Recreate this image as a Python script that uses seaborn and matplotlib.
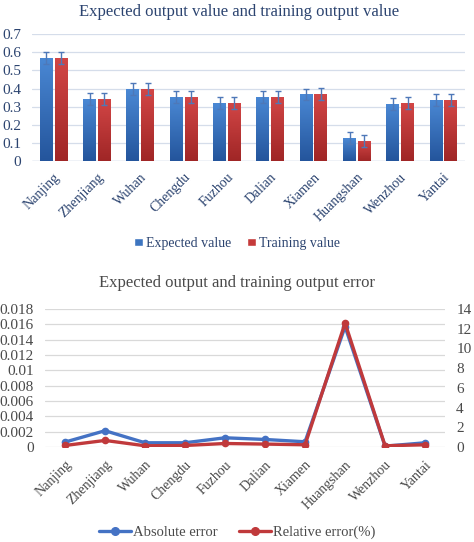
import numpy as np
import pandas as pd
import matplotlib
matplotlib.use("Agg")
import matplotlib.pyplot as plt
from matplotlib.colors import LinearSegmentedColormap
from matplotlib.lines import Line2D
from matplotlib.patches import Patch
import seaborn as sns

cities = ["Nanjing", "Zhenjiang", "Wuhan", "Chengdu", "Fuzhou",
          "Dalian", "Xiamen", "Huangshan", "Wenzhou", "Yantai"]
expected = [0.570, 0.340, 0.397, 0.351, 0.320, 0.355, 0.367, 0.125, 0.316, 0.336]
training = [0.570, 0.343, 0.397, 0.351, 0.321, 0.355, 0.371, 0.108, 0.318, 0.336]
err_exp = [0.033] * 10
err_trn = [0.033] * 10
abs_error = [0.00066, 0.00214, 0.00057, 0.00057, 0.00122, 0.00100, 0.00070, 0.01570, 0.00013, 0.00057]
rel_error = [0.17, 0.68, 0.14, 0.17, 0.37, 0.31, 0.24, 12.57, 0.14, 0.24]
left_ticks = [0, 0.002, 0.004, 0.006, 0.008, 0.01, 0.012, 0.014, 0.016, 0.018]
left_tick_labels = ["0", "0.002", "0.004", "0.006", "0.008", "0.01", "0.012", "0.014", "0.016", "0.018"]
right_ticks = [0, 2, 4, 6, 8, 10, 12, 14]
top_ticks = [0, 0.1, 0.2, 0.3, 0.4, 0.5, 0.6, 0.7]
top_tick_labels = ["0", "0.1", "0.2", "0.3", "0.4", "0.5", "0.6", "0.7"]

sns.set_theme(style="white")
plt.rcParams["font.family"] = ["Liberation Serif", "DejaVu Serif"]

BLUE = "#3D75C0"
RED = "#C53A3A"
TOPTXT = "#2C4470"
BOTTXT = "#4A4A4A"

fig = plt.figure(figsize=(4.74, 5.42), dpi=100)

# ---------------- top chart ----------------
ax1 = fig.add_axes([0.0675, 0.703, 0.914, 0.234])
df = pd.DataFrame({
    "city": cities * 2,
    "value": expected + training,
    "series": ["Expected value"] * 10 + ["Training value"] * 10,
})
sns.barplot(data=df, x="city", y="value", hue="series", palette=[BLUE, RED],
            width=0.68, gap=0.12, ax=ax1, legend=False, errorbar=None, zorder=2)
ax1.set_ylim(0, 0.7)
xl = ax1.get_xlim()

cmaps = [LinearSegmentedColormap.from_list("b", ["#24559C", "#4A88D4"]),
         LinearSegmentedColormap.from_list("r", ["#A02626", "#D24646"])]
grad = np.linspace(0, 1, 64).reshape(-1, 1)
errs = [err_exp, err_trn]
bar_containers = list(ax1.containers)[:2]
for ci, cont in enumerate(bar_containers):
    xs, ys = [], []
    for bar in cont.patches:
        x0, y0, w, h = bar.get_x(), bar.get_y(), bar.get_width(), bar.get_height()
        im = ax1.imshow(grad, extent=[x0, x0 + w, y0, y0 + h], origin="lower",
                        aspect="auto", cmap=cmaps[ci], zorder=2)
        im.set_clip_path(bar)
        bar.set_facecolor("none")
        bar.set_edgecolor("none")
        xs.append(x0 + w / 2)
        ys.append(y0 + h)
    ax1.errorbar(xs, ys, yerr=errs[ci], fmt="none", ecolor="#4E78B8",
                 elinewidth=1.0, capsize=2.5, capthick=1.0, zorder=3)
ax1.set_xlim(xl)
ax1.set_ylim(0, 0.7)
ax1.set_yticks(top_ticks)
ax1.set_yticklabels(top_tick_labels)
ax1.yaxis.grid(True, color="#D5DDEA", linewidth=0.9)
ax1.set_axisbelow(True)
for s in ax1.spines.values():
    s.set_visible(False)
ax1.axhline(0, color="#C9D3E3", linewidth=1.0, zorder=1)
ax1.set_xlabel("")
ax1.set_ylabel("")
ax1.tick_params(axis="x", length=0, labelsize=10, colors=TOPTXT, pad=7)
ax1.tick_params(axis="y", length=0, labelsize=11, colors=TOPTXT, pad=8)
plt.setp(ax1.get_xticklabels(), rotation=45, ha="right", rotation_mode="anchor")
fig.text(0.505, 0.977, "Expected output value and training output value",
         ha="center", va="center", fontsize=12, color=TOPTXT)
h1 = [Patch(facecolor=BLUE), Patch(facecolor=RED)]
fig.legend(h1, ["Expected value", "Training value"], loc="center",
           bbox_to_anchor=(0.50, 0.551), ncol=2, frameon=False, fontsize=10,
           handlelength=0.6, handleheight=0.6, handletextpad=0.2, columnspacing=1.2,
           labelcolor=TOPTXT)

# ---------------- bottom chart ----------------
ax2 = fig.add_axes([0.095, 0.175, 0.844, 0.255])
ax3 = ax2.twinx()
dfl = pd.DataFrame({"city": cities, "abs": abs_error, "rel": rel_error})
sns.lineplot(data=dfl, x="city", y="abs", ax=ax2, color="#4472C4", linewidth=2.4,
             marker="o", markersize=5.5, markeredgewidth=0, sort=False, zorder=3)
sns.lineplot(data=dfl, x="city", y="rel", ax=ax3, color="#C0393B", linewidth=2.4,
             marker="o", markersize=5.5, markeredgewidth=0, sort=False, zorder=3)
ax2.set_ylim(0, 0.018)
ax3.set_ylim(0, 14)
ax2.set_yticks(left_ticks)
ax2.set_yticklabels(left_tick_labels)
ax3.set_yticks(right_ticks)
ax2.set_xlim(-0.5, 9.5)
ax2.yaxis.grid(True, color="#D9D9D9", linewidth=0.9)
ax2.set_axisbelow(True)
for a in (ax2, ax3):
    for s in a.spines.values():
        s.set_visible(False)
    a.set_xlabel("")
    a.set_ylabel("")
    a.tick_params(axis="both", length=0, labelsize=11, colors=BOTTXT)
ax2.tick_params(axis="x", labelsize=10, pad=8)
ax2.tick_params(axis="y", pad=8)
ax3.tick_params(axis="y", pad=8)
plt.setp(ax2.get_xticklabels(), rotation=45, ha="right", rotation_mode="anchor")
fig.text(0.50, 0.478, "Expected output and training output error",
         ha="center", va="center", fontsize=12, color=BOTTXT)
h2 = [Line2D([0], [0], color="#4472C4", lw=2.4, marker="o", markersize=5.5),
      Line2D([0], [0], color="#C0393B", lw=2.4, marker="o", markersize=5.5)]
fig.legend(h2, ["Absolute error", "Relative error(%)"], loc="center",
           bbox_to_anchor=(0.50, 0.018), ncol=2, frameon=False, fontsize=10.5,
           handlelength=2.2, handletextpad=0.1, columnspacing=1.5, labelcolor=BOTTXT)

fig.savefig("out.png", dpi=100)
